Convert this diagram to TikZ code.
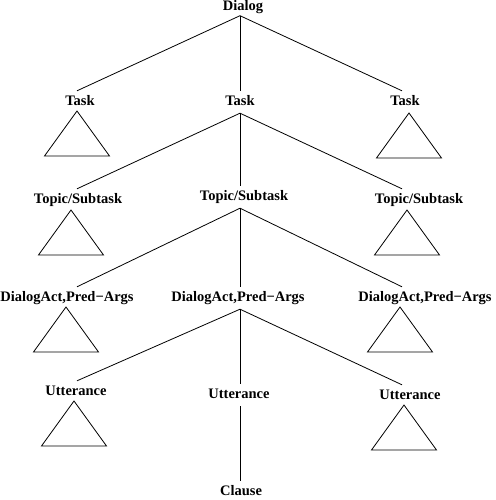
\documentclass[tikz,border=0pt]{standalone}
\usepackage{fontspec}
\setmainfont{Liberation Serif}
\usepackage{tikz}
\usetikzlibrary{positioning}

\begin{document}
\begin{tikzpicture}[
        x=1pt, y=-1pt,
        cat/.style={font=\bfseries\fontsize{14.5}{17}\selectfont, text height=10pt, text depth=3pt, inner xsep=1pt, inner ysep=4.5pt},
        branch/.style={line width=0.8pt},
        tri/.pic={\draw[branch] (0,0) -- (-32.5,45) -- (32.5,45) -- cycle;}
        ]
        \useasboundingbox (0,0) rectangle (495,500);

        % columns where the branches meet
        \coordinate (colL) at (77,0);
        \coordinate (colC) at (240,0);
        \coordinate (colR) at (402,0);

        \node[cat] (dialog) at (243,7.5) {Dialog};

        \node[cat] (taskL) at (80,102) {Task};
        \node[cat] (taskC) at (240,102) {Task};
        \node[cat] (taskR) at (405,102) {Task};

        \node[cat] (topicL) at (78,200) {Topic/Subtask};
        \node[cat] (topicC) at (244,197) {Topic/Subtask};
        \node[cat] (topicR) at (419,200) {Topic/Subtask};

        \node[cat] (actL) at (67,298) {DialogAct,Pred−Args};
        \node[cat] (actC) at (238,298) {DialogAct,Pred−Args};
        \node[cat] (actR) at (425,298) {DialogAct,Pred−Args};

        \node[cat] (uttL) at (76,392) {Utterance};
        \node[cat] (uttC) at (239,395) {Utterance};
        \node[cat] (uttR) at (410,396) {Utterance};

        \node[cat] (clause) at (241,492) {Clause};

        \draw[branch] ([yshift=3pt]dialog.south -| colC) -- (taskL.north -| colL);
        \draw[branch] ([yshift=3pt]dialog.south -| colC) -- (taskC.north -| colC);
        \draw[branch] ([yshift=3pt]dialog.south -| colC) -- (taskR.north -| colR);

        \draw[branch] (taskC.south -| colC) -- (topicL.north -| colL);
        \draw[branch] (taskC.south -| colC) -- (topicC.north -| colC);
        \draw[branch] (taskC.south -| colC) -- (topicR.north -| colR);

        \draw[branch] (topicC.south -| colC) -- (actL.north -| colL);
        \draw[branch] (topicC.south -| colC) -- (actC.north -| colC);
        \draw[branch] (topicC.south -| colC) -- (actR.north -| colR);

        \draw[branch] (actC.south -| colC) -- (uttL.north -| colL);
        \draw[branch] (actC.south -| colC) -- (uttC.north -| colC);
        \draw[branch] (actC.south -| colC) -- (uttR.north -| colR);

        \draw[branch] (uttC.south -| colC) -- (clause.north -| colC);

        % collapsed subtrees
        \pic at (77,111) {tri};
        \pic at (409,113) {tri};
        \pic at (71,210) {tri};
        \pic at (407,210) {tri};
        \pic at (66,307) {tri};
        \pic at (400,307) {tri};
        \pic at (74,401) {tri};
        \pic at (404,405) {tri};

    \end{tikzpicture}
\end{document}
